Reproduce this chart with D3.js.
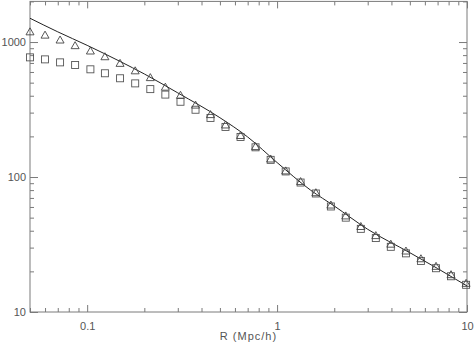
<!DOCTYPE html>
<html>
<head>
<meta charset="utf-8">
<script src="https://cdn.jsdelivr.net/npm/d3@7/dist/d3.min.js"></script>
<style>
	body { margin: 0; background: #fff; }
	svg { display: block; }
	text { font-family: "Liberation Sans", Arial, sans-serif; }
</style>
</head>
<body>
<svg id="chart"></svg>
<script>
// radii of the measured points (Mpc/h)
var radius = [0.05, 0.06, 0.072, 0.0864, 0.104, 0.124, 0.149, 0.179, 0.215, 0.258,
	0.310, 0.372, 0.446, 0.535, 0.642, 0.770, 0.925, 1.11, 1.33, 1.60,
	1.92, 2.30, 2.76, 3.31, 3.97, 4.77, 5.72, 6.87, 8.24, 9.89];

// triangles
var triVals = [1190, 1125, 1035, 940, 858, 778, 695, 612, 545, 463,
	403, 341, 290, 243, 203, 168, 136, 111, 92.5, 76.5,
	62, 51.5, 43, 36.8, 31.8, 28.3, 24.8, 21.8, 18.9, 16.3];

// squares
var sqVals = [770, 744, 707, 676, 628, 587, 539, 494, 448, 408,
	361, 315, 274, 235, 198, 166, 134, 110, 91, 75.5,
	60.5, 50, 41.3, 35.3, 30.4, 27.2, 23.9, 21.1, 18.4, 15.9];

// solid curve
var lineR = [0.05, 0.07, 0.1, 0.15, 0.2, 0.3, 0.5, 0.7, 1, 1.5, 2, 3, 5, 7, 10];
var lineVals = [1500, 1190, 945, 715, 580, 420, 275, 198, 128, 80, 61, 41, 27.5, 21, 15.6];

var xTicks = [0.1, 1, 10];
var xTickLabels = ['0.1', '1', '10'];
var yTicks = [10, 100, 1000];
var yTickLabels = ['10', '100', '1000'];

var width = 474, height = 345;
var plotL = 30, plotR = 467, plotT = 1.4, plotB = 312;
var axisColor = '#7a7a7a';

var svg = d3.select('#chart')
	.attr('width', width)
	.attr('height', height);

var x = d3.scaleLog().domain([0.05, 10]).range([plotL, plotR]);
var y = d3.scaleLog().domain([10, 2000]).range([plotB, plotT]);

// minor tick values
var xMinor = [];
[0.01, 0.1, 1].forEach(function(d) {
	for (var k = 2; k <= 9; k++) {
		var v = d * k;
		if (v >= 0.05 && v <= 10) xMinor.push(v);
	}
});
var yMinor = [];
[10, 100, 1000].forEach(function(d) {
	for (var k = 2; k <= 9; k++) {
		var v = d * k;
		if (v >= 10 && v <= 2000) yMinor.push(v);
	}
});

function styleAxis(g) {
	g.select('.domain').remove();
	g.selectAll('line').attr('stroke', axisColor);
	g.selectAll('text')
		.attr('fill', '#555')
		.style('font-size', '11px');
}

// bottom
svg.append('g').attr('transform', 'translate(0,' + plotB + ')')
	.call(d3.axisBottom(x).tickValues(xMinor).tickSize(-4).tickFormat(''))
	.call(styleAxis);
svg.append('g').attr('transform', 'translate(0,' + plotB + ')')
	.call(d3.axisBottom(x).tickValues(xTicks).tickSize(-7).tickPadding(10)
		.tickFormat(function(d, i) { return xTickLabels[i]; }))
	.call(styleAxis);
// top
svg.append('g').attr('transform', 'translate(0,' + plotT + ')')
	.call(d3.axisTop(x).tickValues(xMinor).tickSize(-4).tickFormat(''))
	.call(styleAxis);
svg.append('g').attr('transform', 'translate(0,' + plotT + ')')
	.call(d3.axisTop(x).tickValues(xTicks).tickSize(-7).tickFormat(''))
	.call(styleAxis);
// left
svg.append('g').attr('transform', 'translate(' + plotL + ',0)')
	.call(d3.axisLeft(y).tickValues(yMinor).tickSize(-4).tickFormat(''))
	.call(styleAxis);
svg.append('g').attr('transform', 'translate(' + plotL + ',0)')
	.call(d3.axisLeft(y).tickValues(yTicks).tickSize(-8).tickPadding(4)
		.tickFormat(function(d, i) { return yTickLabels[i]; }))
	.call(styleAxis);
// right
svg.append('g').attr('transform', 'translate(' + plotR + ',0)')
	.call(d3.axisRight(y).tickValues(yMinor).tickSize(-4).tickFormat(''))
	.call(styleAxis);
svg.append('g').attr('transform', 'translate(' + plotR + ',0)')
	.call(d3.axisRight(y).tickValues(yTicks).tickSize(-8).tickFormat(''))
	.call(styleAxis);

// frame
svg.append('rect')
	.attr('x', plotL).attr('y', plotT)
	.attr('width', plotR - plotL).attr('height', plotB - plotT)
	.attr('fill', 'none')
	.attr('stroke', axisColor)
	.attr('stroke-width', 1);

// axis title
svg.append('text')
	.attr('x', (plotL + plotR) / 2)
	.attr('y', 340)
	.attr('text-anchor', 'middle')
	.attr('fill', '#555')
	.style('font-size', '11px')
	.style('letter-spacing', '1px')
	.text('R (Mpc/h)');

// curve
var lineData = lineR.map(function(r, i) { return [r, lineVals[i]]; });
svg.append('path')
	.datum(lineData)
	.attr('fill', 'none')
	.attr('stroke', '#222')
	.attr('stroke-width', 1)
	.attr('d', d3.line()
		.x(function(d) { return x(d[0]); })
		.y(function(d) { return y(d[1]); })
		.curve(d3.curveMonotoneX));

// squares
svg.append('g').selectAll('rect')
	.data(radius)
	.enter().append('rect')
	.attr('x', function(d) { return x(d) - 3.5; })
	.attr('y', function(d, i) { return y(sqVals[i]) - 3.5; })
	.attr('width', 7)
	.attr('height', 7)
	.attr('fill', 'none')
	.attr('stroke', '#555')
	.attr('stroke-width', 0.9);

// triangles
svg.append('g').selectAll('path')
	.data(radius)
	.enter().append('path')
	.attr('transform', function(d, i) { return 'translate(' + x(d) + ',' + y(triVals[i]) + ')'; })
	.attr('d', 'M0,-4L4,3L-4,3Z')
	.attr('fill', 'none')
	.attr('stroke', '#444')
	.attr('stroke-width', 0.9);
</script>
</body>
</html>
